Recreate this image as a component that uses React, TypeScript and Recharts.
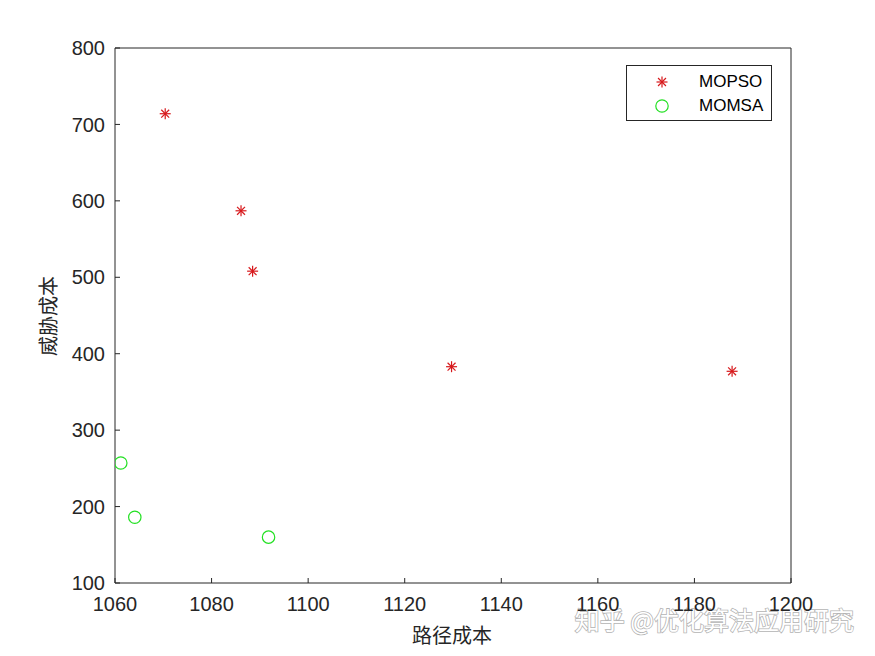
import React from 'react';
import { ScatterChart, Scatter, XAxis, YAxis } from 'recharts';

// Pareto fronts: [path cost, threat cost]
const mopsoX = [1070.4, 1086.1, 1088.5, 1129.7, 1187.8];
const mopsoY = [714, 587, 508, 383, 377];
const momsaX = [1061.2, 1064.1, 1091.8];
const momsaY = [257, 186, 160];

const xTicks = [1060, 1080, 1100, 1120, 1140, 1160, 1180, 1200];
const yTicks = [100, 200, 300, 400, 500, 600, 700, 800];

const mopso = mopsoX.map((x, i) => ({ x, y: mopsoY[i] }));
const momsa = momsaX.map((x, i) => ({ x, y: momsaY[i] }));

const RED = '#d7191c';
const GREEN = '#22e022';
const FONT = '"Liberation Sans", Arial, sans-serif';
const CJK = '"Noto Sans CJK SC", sans-serif';

const Star = ({ cx, cy }: any) => {
  const r = 5.5;
  const d = r * 0.72;
  return (
    <g stroke={RED} strokeWidth={1.2}>
      <line x1={cx - r} y1={cy} x2={cx + r} y2={cy} />
      <line x1={cx} y1={cy - r} x2={cx} y2={cy + r} />
      <line x1={cx - d} y1={cy - d} x2={cx + d} y2={cy + d} />
      <line x1={cx - d} y1={cy + d} x2={cx + d} y2={cy - d} />
    </g>
  );
};

const Ring = ({ cx, cy }: any) => (
  <circle cx={cx} cy={cy} r={6.2} fill="none" stroke={GREEN} strokeWidth={1.2} />
);

const legendItems = [
  { label: 'MOPSO', Icon: Star },
  { label: 'MOMSA', Icon: Ring },
];

const LegendBox = () => (
  <div
    style={{
      position: 'absolute',
      left: 626,
      top: 65,
      width: 146,
      height: 56,
      border: '1px solid #262626',
      background: '#fff',
      boxSizing: 'border-box',
      fontFamily: FONT,
      fontSize: 17,
      color: '#000',
    }}
  >
    {legendItems.map(({ label, Icon }, i) => (
      <div key={label} style={{ position: 'absolute', top: 5 + i * 24, left: 0, height: 22, width: 144 }}>
        <svg width={40} height={22} style={{ position: 'absolute', left: 16, top: 0 }}>
          <Icon cx={19} cy={11} />
        </svg>
        <span style={{ position: 'absolute', left: 72, top: 1 }}>{label}</span>
      </div>
    ))}
  </div>
);

export default function App() {
  const axisStroke = '#262626';
  const tickStyle = { fontSize: 20, fill: '#262626', fontFamily: FONT };
  return (
    <div style={{ position: 'absolute', left: 0, top: 0, width: 875, height: 656, background: '#fff' }}>
      <ScatterChart width={875} height={656} margin={{ top: 47, right: 83, bottom: 43, left: 65 }}>
        <XAxis
          xAxisId="b"
          type="number"
          dataKey="x"
          domain={[1060, 1200]}
          ticks={xTicks}
          allowDataOverflow
          height={30}
          stroke={axisStroke}
          tickSize={-5}
          tickMargin={19}
          tick={tickStyle}
          fontSize={20}
          fontFamily={FONT}
        />
        <XAxis
          xAxisId="t"
          orientation="top"
          type="number"
          dataKey="x"
          domain={[1060, 1200]}
          ticks={xTicks}
          height={1}
          stroke={axisStroke}
          tickSize={-5}
          tick={false}
        />
        <YAxis
          yAxisId="l"
          type="number"
          dataKey="y"
          domain={[100, 800]}
          ticks={yTicks}
          allowDataOverflow
          width={50}
          stroke={axisStroke}
          tickSize={-5}
          tickMargin={15}
          tick={tickStyle}
          fontSize={20}
          fontFamily={FONT}
        />
        <YAxis
          yAxisId="r"
          orientation="right"
          type="number"
          dataKey="y"
          domain={[100, 800]}
          ticks={yTicks}
          width={1}
          stroke={axisStroke}
          tickSize={-5}
          tick={false}
        />
        <Scatter
          name="MOPSO"
          data={mopso}
          xAxisId="b"
          yAxisId="l"
          shape={Star}
          isAnimationActive={false}
        />
        <Scatter
          name="MOMSA"
          data={momsa}
          xAxisId="b"
          yAxisId="l"
          shape={Ring}
          isAnimationActive={false}
        />
        <Scatter data={momsa} xAxisId="t" yAxisId="r" shape={() => null} isAnimationActive={false} />
        <text x={452} y={643} textAnchor="middle" fontSize={20} fill="#262626" fontFamily={CJK}>
          路径成本
        </text>
        <text
          x={56}
          y={316}
          textAnchor="middle"
          fontSize={20}
          fill="#262626"
          fontFamily={CJK}
          transform="rotate(-90 56 316)"
        >
          威胁成本
        </text>
        <text
          x={854}
          y={630}
          textAnchor="end"
          fontSize={25}
          fill="#ffffff"
          stroke="#b4b4b4"
          strokeWidth={1.6}
          paintOrder="stroke"
          fontFamily={CJK}
        >
          知乎 @优化算法应用研究
        </text>
      </ScatterChart>
      <LegendBox />
    </div>
  );
}
